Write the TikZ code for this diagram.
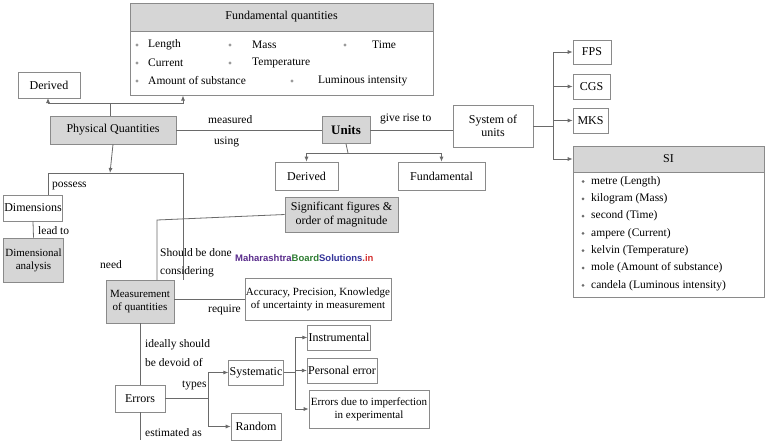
\documentclass[tikz,border=0pt]{standalone}
\usepackage{fontspec}
\setmainfont{Liberation Serif}
\newfontfamily\wmfont{Liberation Sans}
\usetikzlibrary{arrows.meta}
\definecolor{bx}{HTML}{8A8A8A}
\definecolor{hd}{HTML}{D6D6D6}
\definecolor{ln}{HTML}{6A6A6A}
\definecolor{dotc}{HTML}{9A9A9A}
\begin{document}
\begin{tikzpicture}[x=1pt,y=-1pt,
  every node/.style={font=\fontsize{12}{13.5}\selectfont},
  box/.style={draw=bx,fill=white,inner sep=1pt,align=center,line width=0.6pt},
  gbox/.style={box,fill=hd},
  sm/.style={font=\fontsize{11}{13}\selectfont},
  lbl/.style={inner sep=0pt,anchor=west,font=\fontsize{11.5}{13}\selectfont},
  itm/.style={inner sep=0pt,anchor=west,font=\fontsize{11.5}{13}\selectfont},
  con/.style={draw=ln,line width=0.8pt},
  arr/.style={con,-{Latex[length=5pt,width=4pt]}}]
\useasboundingbox (0,0) rectangle (768,440);
% fundamental quantities
\node[gbox,minimum width=303,minimum height=28] (fq) at (281.5,17) {Fundamental quantities};
\node[box,minimum width=303,minimum height=64] (fqb) at (281.5,63) {};
\foreach \x/\y in {137/45,137/63,137/81,230/45,230/63,292/81,345/45}{\fill[dotc] (\x,\y) circle (1.6);}
\node[itm] (f1) at (148,45) {Length};
\node[itm] (f2) at (252,45) {Mass};
\node[itm] (f3) at (372,45) {Time};
\node[itm] (f4) at (148,63) {Current};
\node[itm] (f5) at (252,63) {Temperature};
\node[itm] (f6) at (148,81) {Amount of substance};
\node[itm] (f7) at (318,81) {Luminous intensity};
% left
\node[box,minimum width=62,minimum height=26] (der1) at (49,85) {Derived};
\node[gbox,minimum width=126,minimum height=28] (pq) at (113,130) {Physical Quantities};
\coordinate (pqt) at (110,103);
\draw[con] (pq.north -| pqt) -- (pqt);
\draw[arr] (110,103) -| (48,98);
\draw[arr] (110,103) -| (183,95.5);
\node[gbox,minimum width=48,minimum height=27,font=\fontsize{13}{14}\selectfont\bfseries] (un) at (346,130) {Units};
\draw[con] (pq.east) -- (un.west);
\node[lbl] at (208,120) {measured};
\node[lbl] at (214,142) {using};
\node[box,minimum width=80,minimum height=42] (sys) at (493,126) {System of\\units};
\draw[con] (un.east) -- (sys.west |- un.east);
\node[lbl] at (380,119) {give rise to};
\node[box,minimum width=63,minimum height=28] (der2) at (306.5,176) {Derived};
\node[box,minimum width=87,minimum height=28] (fun2) at (441.5,176) {Fundamental};
\draw[con] (un.south) -- (348,153);
\draw[arr] (348,153) -| (der2.north);
\draw[arr] (348,153) -| (fun2.north);
% systems
\node[box,minimum width=38,minimum height=24] (fps) at (592,52) {FPS};
\node[box,minimum width=37,minimum height=25] (cgs) at (591.5,86.5) {CGS};
\node[box,minimum width=35,minimum height=25] (mks) at (590.5,120.5) {MKS};
\node[gbox,minimum width=191,minimum height=26] (si) at (668.5,159) {SI};
\node[box,minimum width=191,minimum height=125] (sib) at (668.5,234.5) {};
\draw[con] (sys.east) -- (553,126);
\draw[arr] (553,126) |- (fps.west);
\draw[arr] (553,126) |- (cgs.west);
\draw[arr] (553,126) |- (mks.west);
\draw[arr] (553,126) |- (si.west);
\foreach \i/\t in {0/metre (Length),1/kilogram (Mass),2/second (Time),3/ampere (Current),4/kelvin (Temperature),5/mole (Amount of substance),6/candela (Luminous intensity)}{
  \fill[dotc!70!black] (583,181.5+17.3*\i) circle (1.5);
  \node[itm] (s\i) at (591,181.5+17.3*\i) {\t};}
% lower left
\draw[arr] (pq.south) -- (110,173);
\draw[con] (48,173) -- (183,173);
\node[box,minimum width=54,minimum height=26] (dim) at (33,208) {Dimensions};
\draw[con] (48,173) -- (48,195);
\node[lbl] at (52,186) {possess};
\node[gbox,sm,minimum width=60,minimum height=44] (da) at (33.5,260) {Dimensional\\analysis};
\draw[con] (dim.south) -- (da.north);
\node[lbl] at (38,231) {lead to};
\node[gbox,sm,minimum width=68,minimum height=43] (meas) at (140,301.5) {Measurement\\of quantities};
\draw[con] (183,173) -- (183,280);
\node[lbl] at (100,265) {need};
\node[gbox,minimum width=113,minimum height=35] (sig) at (341.5,214.5) {Significant figures \&\\order of magnitude};
\draw[con] (sig.west) -- (157,220) -- (157,280);
\node[lbl] at (160,253) {Should be done};
\node[lbl] at (160,272) {considering};
\node[font=\wmfont\fontsize{9.5}{11}\selectfont\bfseries,inner sep=0pt,anchor=west] (wm) at (235,258) {\textcolor[HTML]{5A2D8C}{Maharashtra}\textcolor[HTML]{2E7D32}{Board}\textcolor[HTML]{333399}{Solutions}\textcolor[HTML]{D32F2F}{.in}};
\node[box,sm,minimum width=140,minimum height=42] (acc) at (318,299) {Accuracy, Precision, Knowledge\\of uncertainty in measurement};
\draw[con] (meas.east |- acc.west) -- (acc.west);
\node[lbl] at (208,310) {require};
\node[box,minimum width=50,minimum height=27] (err) at (140,398.5) {Errors};
\draw[con] (meas.south) -- (err.north);
\node[lbl] at (145,345) {ideally should};
\node[lbl] at (145,362) {be devoid of};
\node[box,minimum width=54,minimum height=25] (sysE) at (256,372.5) {Systematic};
\node[box,minimum width=50,minimum height=27] (rnd) at (256,426.5) {Random};
\draw[con] (err.east) -- (208,398.5);
\draw[arr] (208,398.5) |- (sysE.west);
\draw[arr] (208,398.5) |- (rnd.west);
\node[lbl] at (182,385) {types};
\node[box,minimum width=60,minimum height=25] (ins) at (339,337.5) {Instrumental};
\node[box,minimum width=66,minimum height=25] (per) at (342,370.5) {Personal error};
\node[box,sm,minimum width=120,minimum height=38] (imp) at (369,409) {Errors due to imperfection\\in experimental};
\draw[con] (sysE.east) -- (295,372.5);
\draw[arr] (295,372.5) |- (ins.west);
\draw[arr] (295,372.5) |- (per.west);
\draw[arr] (295,372.5) |- (imp.west);
\coordinate (bot) at (140,440);
\draw[con] (err.south) -- (bot);
\node[lbl] at (145,433) {estimated as};
\end{tikzpicture}
\end{document}
